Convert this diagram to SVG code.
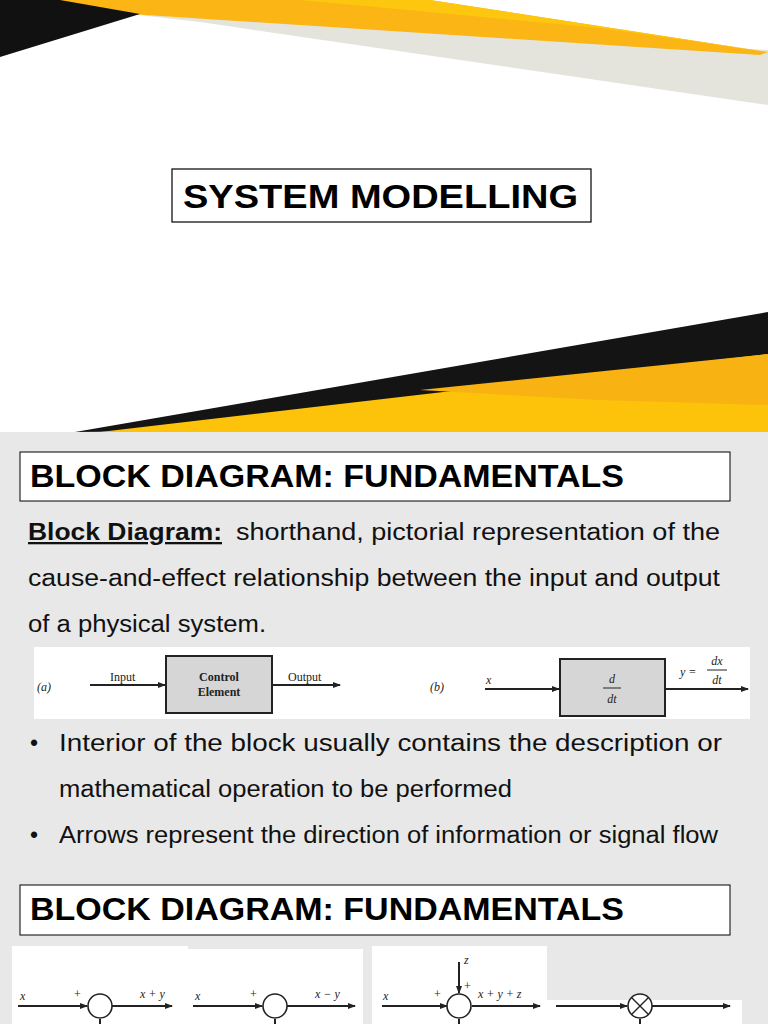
<svg xmlns="http://www.w3.org/2000/svg" width="768" height="1024" viewBox="0 0 768 1024">
<style>
.h{font-family:"Liberation Sans",Arial,sans-serif;font-weight:bold;fill:#000}
.t{font-family:"Liberation Sans",Arial,sans-serif;font-size:23px;fill:#111}
.s{font-family:"Liberation Serif","Times New Roman",serif;font-size:12px;fill:#222}
.i{font-style:italic}
.ln{stroke:#222;stroke-width:2;fill:none}
.bx{fill:#d6d6d6;stroke:#222;stroke-width:2}
.c{fill:#fff;stroke:#222;stroke-width:1.6}
</style>
<defs><marker id="a" markerWidth="8" markerHeight="6" refX="7" refY="3" orient="auto" markerUnits="userSpaceOnUse"><path d="M0,0L8,3L0,6z" fill="#222"/></marker></defs>
<rect width="768" height="1024" fill="#fff"/>
<rect y="432" width="768" height="592" fill="#e8e8e8"/>
<g id="deco">
<polygon points="130,14 768,50 768,105 200,22" fill="#e4e3dc"/>
<polygon points="30,0 430,0 768,52 760,55 130,14" fill="#fbb515"/>
<polygon points="300,0 430,0 768,52 600,28" fill="#fdc70f"/>
<polygon points="0,0 60,0 140,14 0,57" fill="#111"/>
<polygon points="75,432 768,312 768,358 330,430" fill="#141414"/>
<polygon points="100,432 768,354 768,432" fill="#fcc30a"/>
<polygon points="420,390 768,354 768,405 600,400" fill="#f8b212"/>
</g>
<g id="title"><rect x="172" y="169" width="419" height="53" fill="#fff" stroke="#000" stroke-width="1.2"/><text class="h" x="183" y="208" font-size="34" textLength="395" lengthAdjust="spacingAndGlyphs">SYSTEM MODELLING</text></g>
<g id="h1"><rect x="20" y="452" width="710" height="49" fill="#fff" stroke="#000" stroke-width="1"/><text class="h" x="30" y="487" font-size="31" textLength="594" lengthAdjust="spacingAndGlyphs">BLOCK DIAGRAM: FUNDAMENTALS</text></g>
<g id="para">
<text class="t" x="28" y="540"><tspan font-weight="bold" text-decoration="underline" textLength="194" lengthAdjust="spacingAndGlyphs">Block Diagram:</tspan><tspan x="236" textLength="484" lengthAdjust="spacingAndGlyphs">shorthand, pictorial representation of the</tspan></text>
<text class="t" x="28" y="586" textLength="692" lengthAdjust="spacingAndGlyphs">cause-and-effect relationship between the input and output</text>
<text class="t" x="28" y="632" textLength="238" lengthAdjust="spacingAndGlyphs">of a physical system.</text>
</g>
<g id="fig1">
<rect x="34" y="647" width="716" height="72" fill="#fff"/>
<text class="s i" x="37" y="691" font-size="13">(a)</text>
<text class="s" x="110" y="681">Input</text>
<rect class="bx" x="166" y="656" width="106" height="57"/>
<text class="s" x="219" y="681" text-anchor="middle" font-weight="bold" font-size="11">Control</text>
<text class="s" x="219" y="696" text-anchor="middle" font-weight="bold" font-size="11">Element</text>
<text class="s" x="288" y="681">Output</text>
<text class="s i" x="430" y="691" font-size="13">(b)</text>
<text class="s i" x="486" y="684">x</text>
<rect class="bx" x="560" y="659" width="105" height="57"/>
<text class="s i" x="612" y="683" text-anchor="middle" font-size="13">d</text>
<line x1="603" y1="688" x2="621" y2="688" stroke="#222"/>
<text class="s i" x="612" y="703" text-anchor="middle" font-size="13">dt</text>
<text class="s i" x="680" y="676" font-size="13">y =</text>
<text class="s i" x="717" y="665" text-anchor="middle" font-size="13">dx</text>
<line x1="707" y1="670" x2="727" y2="670" stroke="#222"/>
<text class="s i" x="717" y="684" text-anchor="middle" font-size="13">dt</text>
</g>
<g id="bullets">
<text class="t" x="30" y="751">•</text><text class="t" x="59" y="751" textLength="663" lengthAdjust="spacingAndGlyphs">Interior of the block usually contains the description or</text>
<text class="t" x="59" y="797" textLength="453" lengthAdjust="spacingAndGlyphs">mathematical operation to be performed</text>
<text class="t" x="30" y="843">•</text><text class="t" x="59" y="843" textLength="659" lengthAdjust="spacingAndGlyphs">Arrows represent the direction of information or signal flow</text>
</g>
<g id="h2"><rect x="20" y="885" width="710" height="50" fill="#fff" stroke="#000" stroke-width="1"/><text class="h" x="30" y="920" font-size="31" textLength="594" lengthAdjust="spacingAndGlyphs">BLOCK DIAGRAM: FUNDAMENTALS</text></g>
<g id="fig2">
<rect x="12" y="946" width="176" height="78" fill="#fff"/>
<rect x="188" y="949" width="175" height="75" fill="#fff"/>
<rect x="372" y="946" width="175" height="78" fill="#fff"/>
<rect x="547" y="1000" width="195" height="24" fill="#fff"/>
<text class="s i" x="20" y="1000">x</text><text class="s" x="74" y="998">+</text><text class="s i" x="140" y="998">x + y</text>
<text class="s i" x="195" y="1000">x</text><text class="s" x="250" y="998">+</text><text class="s i" x="315" y="998">x − y</text>
<text class="s i" x="383" y="1000">x</text><text class="s" x="434" y="998">+</text><text class="s i" x="478" y="998">x + y + z</text>
<text class="s i" x="464" y="964" font-size="10">z</text><text class="s" x="464" y="990">+</text>
</g>
<g id="connectors">
<line class="ln" x1="90" y1="685" x2="165" y2="685" marker-end="url(#a)"/>
<line class="ln" x1="272" y1="685" x2="340" y2="685" marker-end="url(#a)"/>
<line class="ln" x1="485" y1="689" x2="559" y2="689" marker-end="url(#a)"/>
<line class="ln" x1="665" y1="689" x2="748" y2="689" marker-end="url(#a)"/>
<g stroke-width="1.5">
<line class="ln" x1="18" y1="1006" x2="87" y2="1006" marker-end="url(#a)"/>
<line class="ln" x1="112" y1="1006" x2="172" y2="1006" marker-end="url(#a)"/>
<line class="ln" x1="193" y1="1006" x2="262" y2="1006" marker-end="url(#a)"/>
<line class="ln" x1="287" y1="1006" x2="355" y2="1006" marker-end="url(#a)"/>
<line class="ln" x1="382" y1="1006" x2="447" y2="1006" marker-end="url(#a)"/>
<line class="ln" x1="472" y1="1006" x2="540" y2="1006" marker-end="url(#a)"/>
<line class="ln" x1="459" y1="962" x2="459" y2="993" marker-end="url(#a)"/>
<line class="ln" x1="556" y1="1006" x2="627" y2="1006" marker-end="url(#a)"/>
<line class="ln" x1="652" y1="1006" x2="730" y2="1006" marker-end="url(#a)"/>
<line class="ln" x1="100" y1="1024" x2="100" y2="1019"/>
<line class="ln" x1="275" y1="1024" x2="275" y2="1019"/>
<line class="ln" x1="459" y1="1024" x2="459" y2="1019"/>
<line class="ln" x1="640" y1="1024" x2="640" y2="1019"/>
</g>
</g>
<g id="circles">
<circle class="c" cx="100" cy="1006" r="12"/>
<circle class="c" cx="275" cy="1006" r="12"/>
<circle class="c" cx="459" cy="1006" r="12"/>
<circle class="c" cx="640" cy="1006" r="12"/>
<path d="M631.5,997.5L648.5,1014.5M648.5,997.5L631.5,1014.5" stroke="#222" stroke-width="1.4"/>
</g>
</svg>
